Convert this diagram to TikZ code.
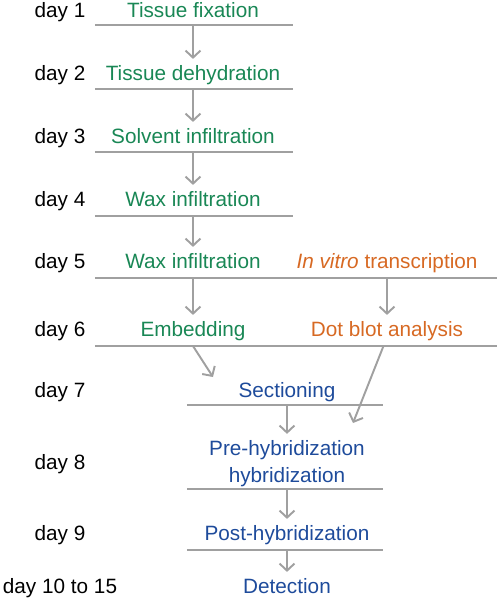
\documentclass[tikz,border=0pt]{standalone}
\usepackage{fontspec}
\setmainfont{Liberation Sans}
\usepackage{xcolor}
\usetikzlibrary{arrows.meta,positioning}
\definecolor{tissuegreen}{RGB}{25,135,85}
\definecolor{probeorange}{RGB}{215,105,35}
\definecolor{slideblue}{RGB}{30,75,155}
\definecolor{rulegray}{RGB}{160,160,160}
\tikzset{
    txt/.style={font=\fontsize{11.8}{15.3}\selectfont,inner sep=3.8pt},
    oneline/.style={txt,anchor=base,text height=8pt,text depth=2.5pt},
    dayname/.style={oneline,text=black},
    tissue/.style={oneline,text=tissuegreen},
    probe/.style={oneline,text=probeorange},
    slide/.style={oneline,text=slideblue},
    rule/.style={draw=rulegray,line width=1.1pt},
    flow/.style={draw=rulegray,line width=1.1pt,-{Straight Barb[length=4pt,width=8.5pt]}}
}
\begin{document}
\begin{tikzpicture}[x=0.02cm,y=-0.02cm]
            \useasboundingbox (0,0) rectangle (498,600);
            % day labels
            \node[dayname] (d1) at (60,17) {day 1};
            \node[dayname] (d2) at (60,80) {day 2};
            \node[dayname] (d3) at (60,143) {day 3};
            \node[dayname] (d4) at (60,206) {day 4};
            \node[dayname] (d5) at (60,268) {day 5};
            \node[dayname] (d6) at (60,336) {day 6};
            \node[dayname] (d7) at (60,397) {day 7};
            \node[dayname] (d8) at (60,469) {day 8};
            \node[dayname] (d9) at (60,540) {day 9};
            \node[dayname] (d10) at (60,593) {day 10 to 15};
            % tissue steps
            \node[tissue] (fix) at (193,17) {Tissue fixation};
            \node[tissue] (dehyd) at (193,80) {Tissue dehydration};
            \node[tissue] (solv) at (193,143) {Solvent infiltration};
            \node[tissue] (waxa) at (193,206) {Wax infiltration};
            \node[tissue] (waxb) at (193,268) {Wax infiltration};
            \node[tissue] (embed) at (193,336) {Embedding};
            % probe steps
            \node[probe] (ivt) at (387,268) {\textit{In vitro} transcription};
            \node[probe] (dot) at (387,336) {Dot blot analysis};
            % slide steps
            \node[slide] (sect) at (287,397) {Sectioning};
            \node[txt,text=slideblue,align=center] (hyb) at (287,464) {Pre-hybridization\\hybridization};
            \node[slide] (post) at (287,540) {Post-hybridization};
            \node[slide] (detect) at (287,593) {Detection};
            % rules under each day
            \coordinate (R1) at (95,25);
            \coordinate (R2) at (95,89);
            \coordinate (R3) at (95,152);
            \coordinate (R4) at (95,216);
            \coordinate (R5) at (95,278);
            \coordinate (R6) at (95,346);
            \coordinate (R7) at (187,405);
            \coordinate (R8) at (187,489);
            \coordinate (R9) at (187,550);
            \draw[rule] (R1) -- ++(198,0);
            \draw[rule] (R2) -- ++(198,0);
            \draw[rule] (R3) -- ++(198,0);
            \draw[rule] (R4) -- ++(198,0);
            \draw[rule] (R5) -- ++(402,0);
            \draw[rule] (R6) -- ++(402,0);
            \draw[rule] (R7) -- ++(196,0);
            \draw[rule] (R8) -- ++(196,0);
            \draw[rule] (R9) -- ++(196,0);
            % arrows
            \draw[flow] (fix |- R1) -- (dehyd.north);
            \draw[flow] (dehyd |- R2) -- (solv.north);
            \draw[flow] (solv |- R3) -- (waxa.north);
            \draw[flow] (waxa |- R4) -- (waxb.north);
            \draw[flow] (waxb |- R5) -- (embed.north);
            \draw[flow] (ivt |- R5) -- (dot.north);
            \coordinate (embedend) at (213,377);
            \coordinate (dotend) at (353,423);
            \draw[flow] (embed |- R6) -- (embedend);
            \draw[flow] ([xshift=-2]dot |- R6) -- (dotend);
            \draw[flow] (sect |- R7) -- (hyb.north);
            \draw[flow] (hyb |- R8) -- (post.north);
            \draw[flow] (post |- R9) -- (detect.north);
        \end{tikzpicture}
\end{document}
